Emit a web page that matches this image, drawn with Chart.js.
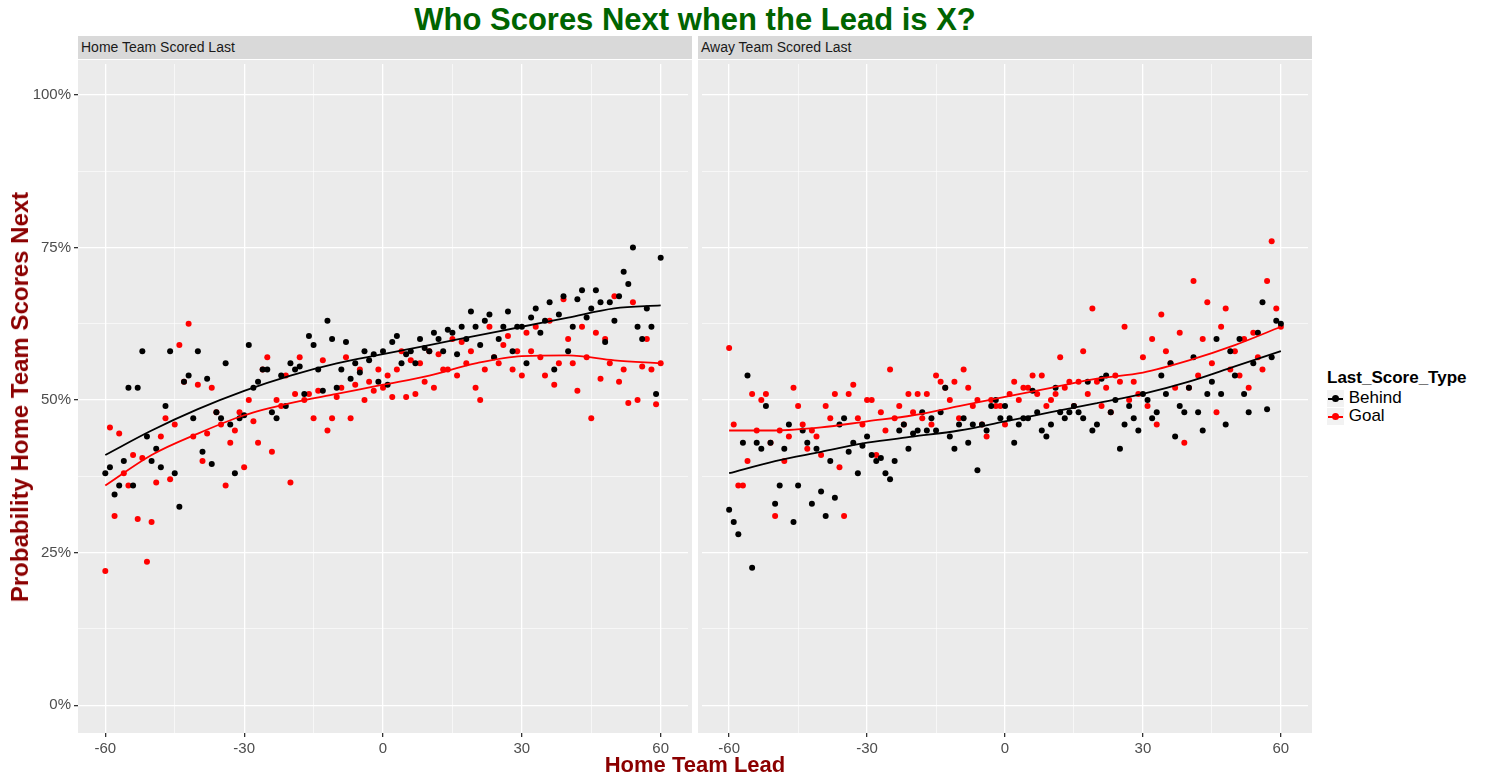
<!DOCTYPE html>
<html><head><meta charset="utf-8">
<script src="https://cdn.jsdelivr.net/npm/chart.js@4/dist/chart.umd.min.js"></script>
<style>
body{margin:0;width:1500px;height:782px;background:#fff;position:relative;overflow:hidden;font-family:"Liberation Sans",Arial,sans-serif}
.abs{position:absolute}
.panel{background:#EBEBEB}
.strip{background:#D9D9D9;font-size:14px;color:#1a1a1a;line-height:23px;padding-left:3px;box-sizing:border-box}
</style></head><body>
<div class="abs" style="left:0;width:1390px;top:2px;text-align:center;font-size:31px;font-weight:bold;color:#006400">Who Scores Next when the Lead is X?</div>
<div class="abs strip" style="left:78px;top:36px;width:614px;height:23px">Home Team Scored Last</div>
<div class="abs strip" style="left:698px;top:36px;width:614px;height:23px">Away Team Scored Last</div>
<div class="abs panel" style="left:78px;top:60px;width:614px;height:673px"></div>
<div class="abs panel" style="left:698px;top:60px;width:614px;height:673px"></div>
<canvas id="c1" class="abs" style="left:0;top:60px"></canvas>
<canvas id="c2" class="abs" style="left:698px;top:60px"></canvas>
<div class="abs" style="left:0;width:1390px;top:752px;text-align:center;font-size:22px;font-weight:bold;color:#8B0000">Home Team Lead</div>
<div class="abs" style="left:20px;top:397px;width:0;height:0"><div style="position:absolute;transform:translate(-50%,-50%) rotate(-90deg);white-space:nowrap;font-size:24px;font-weight:bold;color:#8B0000">Probability Home Team Scores Next</div></div>
<div class="abs" style="left:1327px;top:368px;font-size:17px;font-weight:bold;color:#000">Last_Score_Type</div>
<div class="abs" style="left:1327px;top:389px;font-size:17px;line-height:18px;color:#000">
<div><span style="display:inline-block;width:17px;height:17px;background:#F2F2F2;position:relative;vertical-align:middle"><span style="position:absolute;left:1px;right:1px;top:8px;height:2px;background:#000"></span><span style="position:absolute;left:5px;top:5px;width:7px;height:7px;border-radius:50%;background:#000"></span></span> Behind</div>
<div><span style="display:inline-block;width:17px;height:17px;background:#F2F2F2;position:relative;vertical-align:middle"><span style="position:absolute;left:1px;right:1px;top:8px;height:2px;background:#f00"></span><span style="position:absolute;left:5px;top:5px;width:7px;height:7px;border-radius:50%;background:#f00"></span></span> Goal</div>
</div>
<script>
const leads = Array.from({length:121},(_,i)=>i-60);
const homeBehind=[38,39,34.5,36,40,52,36,52,58,44,40,42,39,49,58,38,32.5,53,54,47,58,41.5,53.5,39.5,48,47,56,46,38,47,47.5,59,52,53,55,55,48,47,54,49,56,55,55.5,51,60.5,59,55,51.5,63,60,52,55,59.5,53.5,56,54.5,58,56.5,57.5,53,58,52.5,59.5,60.5,56,57.5,58,56,60,58.5,58,61,60,58,61.5,61,57.5,62,60,64.5,62,59,63,64,57,60,62,64.5,58,62,62,56,63.5,65,61,63,66,55,64,67,58,62,66.5,68,63.5,65,68,66,59.5,66,63,67,71,69,75,62,60,65,62,51,73.3];
const homeGoal=[22,45.5,31,44.5,38,36,41,30.5,40.5,23.5,30,36.5,44,47,37,46,59,53,62.5,44,52.5,40,44.5,52,48,46,36,43,45,48,39,50,46.5,43,55,57,41.5,50,49,54,36.5,51,57,50,51,47,51.5,56.5,45,47,50.5,52,57,47,52.5,55,50,53,51.5,55,52,54,50.5,55,58,50.5,56.5,51,56,53,58,52,57.5,55,55,60,54,59.5,56,58,52,50,55,62,57,56,59,60.5,55,58,54,61,58,62,57,54,63,52.5,56,66.5,60,56,51.5,62,57,47,61,53.5,60,56,67,53,55,49.5,66,50,55.5,60,55,49.3,56];
const awayBehind=[32,30,28,43,54,22.5,43,42,49,43,33,36,42,46,30,36,45,43,33,42,35,31,40,34,46,47,41.5,43,38,42.5,44,41,40,40.5,38,37,40,45,46,42,44.5,45,48,45,47,45,48,52,44,42,46,47,43,46,38.5,46,45,49,50,47,49,47,43,46,47,47,51.5,48,45,44,46,52,48,47,48,49,48,47,53,45,46,53.5,54,48,50,42,46,49,47,45,51,50,47,48,54,51,56,44,49,48,52,57,48,45,51,53,60,51,46,58,54,60,51,48,56,61,66,48.5,57,63,62.5];
const awayGoal=[58.5,46,36,36,40,51,45,50,51,43,31,45,40,44,52,49,46,42,45,44,41,49,47,51,39,31,51,52.5,47,46,50,50,41,48,45,55,47,49,46,51,48,51,47,51,46,54,53,52,50,53,47,55,52,49,50,46,44,50,49,49,46,51,53,50,52,52,54,51,54,49,50,51,57,52,53,49,53,58,51,65,53,49,52,48,54,53,62,50,53,51,57,49,60,46,64,58,56,52,61,43,52,69.5,54,60,66,56,48,62,65,55,58,54,60,52,61,57,55,69.5,76,65,62];
const fitX=[-60,-50,-40,-30,-20,-10,0,10,20,30,40,50,60];
const homeBehindFit=[41,45,48.5,51.5,54,56,57.5,59,60.5,62,63.5,65,65.5];
const homeGoalFit=[36,41,44.5,47.5,49.5,51,52.5,54,56,57.2,57.3,56.5,56];
const awayBehindFit=[38,40,41.5,43,44,45,46.5,48,49.5,51,53,55.5,58];
const awayGoalFit=[45,45,45.5,46.5,47.5,49,50.5,52,53.5,54.5,56.5,59,62];
const yTicks=[0,25,50,75,100], xTicks=[-60,-30,0,30,60];

function pts(xs,ys){return xs.map((x,i)=>({x:x,y:ys[i]}));}
function noPad(a){a.paddingTop=0;a.paddingBottom=0;a.paddingLeft=0;a.paddingRight=0;}
function make(id,w,yaxis,b,g,bf,gf){
  const cv=document.getElementById(id);
  cv.width=w;cv.height=722;cv.style.width=w+'px';cv.style.height='722px';
  new Chart(cv,{type:'scatter',data:{datasets:[
    {data:pts(fitX,bf),showLine:true,borderColor:'#000',borderWidth:1.8,pointRadius:0,cubicInterpolationMode:'monotone',order:0},
    {data:pts(fitX,gf),showLine:true,borderColor:'#f00',borderWidth:1.8,pointRadius:0,cubicInterpolationMode:'monotone',order:0},
    {data:pts(leads,b),backgroundColor:'#000',borderWidth:0,pointRadius:3,order:1},
    {data:pts(leads,g),backgroundColor:'#f00',borderWidth:0,pointRadius:3,order:1}
  ]},options:{responsive:false,animation:false,devicePixelRatio:1,layout:{padding:0},
    plugins:{legend:{display:false},tooltip:{enabled:false}},
    scales:{
      x:{type:'linear',min:-65.9,max:65.9,afterBuildTicks:a=>{a.ticks=[-60,-45,-30,-15,0,15,30,45,60].map(v=>({value:v}));},
        afterFit:a=>{a.height=49;noPad(a);},border:{display:false},
        grid:{color:'#fff',lineWidth:c=>xTicks.includes(c.tick&&c.tick.value)?1.3:0.6,tickColor:c=>xTicks.includes(c.tick&&c.tick.value)?'#333':'rgba(0,0,0,0)',tickLength:4},
        ticks:{autoSkip:false,maxRotation:0,color:'#4d4d4d',font:{size:15,family:'Liberation Sans'},padding:3,callback:v=>xTicks.includes(v)?String(v):''}},
      y:{type:'linear',min:-4.56,max:105.05,display:true,afterBuildTicks:a=>{a.ticks=[0,12.5,25,37.5,50,62.5,75,87.5,100].map(v=>({value:v}));},
        afterFit:a=>{a.width=yaxis?78:0;noPad(a);},border:{display:false},
        grid:{color:'#fff',lineWidth:c=>yTicks.includes(c.tick&&c.tick.value)?1.3:0.6,tickColor:c=>(yaxis&&yTicks.includes(c.tick&&c.tick.value))?'#333':'rgba(0,0,0,0)',tickLength:yaxis?4:0},
        ticks:{display:yaxis,autoSkip:false,color:'#4d4d4d',font:{size:15,family:'Liberation Sans'},padding:3,callback:v=>yTicks.includes(v)?v+'%':''}}
    }}});
}
make('c1',692,true,homeBehind,homeGoal,homeBehindFit,homeGoalFit);
make('c2',614,false,awayBehind,awayGoal,awayBehindFit,awayGoalFit);
</script></body></html>
